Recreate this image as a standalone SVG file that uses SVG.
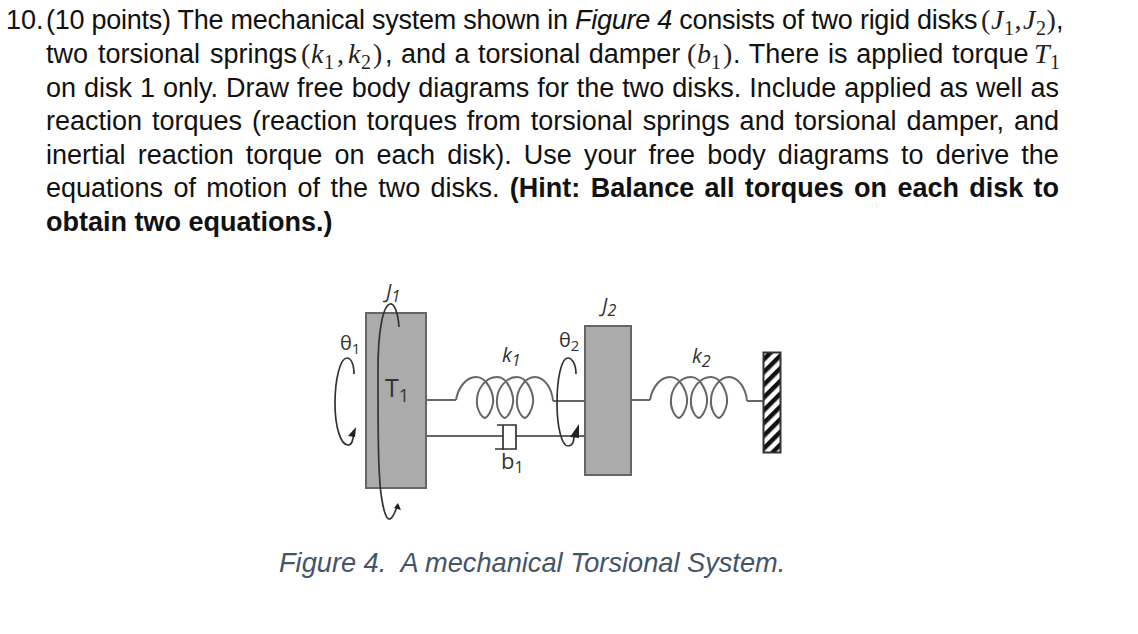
<svg xmlns="http://www.w3.org/2000/svg" width="1138" height="634" viewBox="0 0 1138 634">
<style>
.t{font-family:"Liberation Sans",Arial,sans-serif;font-size:27px;fill:#111}
.b{font-weight:bold}
.i{font-style:italic}
.m{font-family:"Liberation Serif","Times New Roman",serif;font-style:italic;font-size:28px;fill:#222}
.r{font-family:"Liberation Serif","Times New Roman",serif;font-size:28px;fill:#222}
.s{font-family:"Liberation Serif","Times New Roman",serif;font-size:20px;fill:#222}
.cap{font-family:"Liberation Sans",Arial,sans-serif;font-size:27.2px;font-style:italic;fill:#44546a}
.l{font-family:"Open Sans",sans-serif;fill:#333}
.w{fill:none;stroke:#666;stroke-width:2}
.k{fill:none;stroke:#333;stroke-width:1.7}
.disk{fill:#ababab;stroke:#666;stroke-width:2}
.head{fill:#222}
</style>
<defs>
<pattern id="hatch" width="9" height="9" patternUnits="userSpaceOnUse" patternTransform="rotate(45)">
<rect width="9" height="9" fill="#fff"/><rect width="4.500" height="9" fill="#111"/>
</pattern>
<path id="coils" d="M0 0C2-12 10-23 20-23C32-23 38-5 37 3C36 10 32 17 29 18C25 17 20 8 21 0C21-10 29-23 41-23C52-23 58-5 57 3C56 10 52 17 49 18C45 17 40 8 41 0C41-10 49-23 61-23C72-23 78-5 77 3C76 10 72 17 69 18C65 17 60 8 61 0C61-10 69-23 79-23C88-23 96-12 97 1"/>
</defs>
<g id="problem-text">
<text class="t" x="6" y="29">10.</text>
<text class="t" x="46" y="29" letter-spacing="-0.25">(10 points) The mechanical system shown in <tspan class="i">Figure 4</tspan> consists of two rigid disks</text>
<text class="r" x="981" y="29">(</text><text class="m" x="991" y="29">J</text><text class="s" x="1004" y="35">1</text><text class="r" x="1014.500" y="29">,</text><text class="m" x="1023" y="29">J</text><text class="s" x="1036" y="35">2</text><text class="r" x="1046.500" y="29">)</text><text class="t" x="1056" y="29">,</text>
<text class="t" x="46" y="63" word-spacing="2.5">two torsional springs</text>
<text class="r" x="301" y="63">(</text><text class="m" x="311" y="63">k</text><text class="s" x="324" y="69">1</text><text class="r" x="337" y="63">,</text><text class="m" x="348" y="63">k</text><text class="s" x="361" y="69">2</text><text class="r" x="373" y="63">)</text>
<text class="t" x="385" y="63" word-spacing="1">, and a torsional damper</text>
<text class="r" x="687" y="63">(</text><text class="m" x="697" y="63">b</text><text class="s" x="711" y="69">1</text><text class="r" x="723" y="63">)</text>
<text class="t" x="733" y="63" word-spacing="1.2">. There is applied torque</text>
<text class="m" x="1034" y="63">T</text><text class="s" x="1050" y="69">1</text>
<text class="t" x="46" y="97" word-spacing="0.5">on disk 1 only. Draw free body diagrams for the two disks. Include applied as well as</text>
<text class="t" x="46" y="130" word-spacing="2.4">reaction torques (reaction torques from torsional springs and torsional damper, and</text>
<text class="t" x="46" y="164" word-spacing="4.6">inertial reaction torque on each disk). Use your free body diagrams to derive the</text>
<text class="t" x="46" y="197" word-spacing="2.8">equations of motion of the two disks. <tspan class="b">(Hint: Balance all torques on each disk to</tspan></text>
<text class="t b" x="46" y="231">obtain two equations.)</text>
</g>
<g id="connectors">
<path class="w" d="M426 400H456"/>
<use href="#coils" class="w" x="456" y="400"/>
<path class="w" d="M553 401H585"/>
<path class="w" d="M631 400H650"/>
<use href="#coils" class="w" x="650" y="400"/>
<path class="w" d="M747 401H763"/>
<path class="k" d="M427 436H503M516 436H585"/>
</g>
<g id="disk-1"><rect class="disk" x="366" y="313" width="60" height="175"/></g>
<g id="disk-2"><rect class="disk" x="585" y="326" width="46" height="149"/></g>
<g id="damper-b1">
<path class="k" d="M497 425H516V449H495M503 425V450"/>
<text class="l" x="501" y="469" font-size="22">b<tspan font-size="16" dy="4">1</tspan></text>
</g>
<g id="wall"><rect x="763.500" y="352.500" width="17" height="100" fill="url(#hatch)" stroke="#333" stroke-width="2"/></g>
<g id="torque-T1">
<path class="k" d="M399 327C398 312 394 303 390 304C383 306 378 330 378 370C378 430 378 480 382 500C384 513 387 520 390 519C393 518 395 512 397 507"/>
<path class="head" d="M398 503L401 510L394 508Z"/>
<text class="l" x="385" y="397" font-size="25">T<tspan font-size="18" dy="5">1</tspan></text>
</g>
<g id="theta-1">
<path class="k" d="M354 374C354 364 351 358 347 358C340 358 335 380 335 403C335 428 341 445 348 445C351 445 354 441 353 433"/>
<path class="head" d="M356 427L355 437L348 436Z"/>
<text class="l" x="340" y="350" font-size="20">θ<tspan font-size="15" dy="4">1</tspan></text>
</g>
<g id="theta-2">
<path class="k" d="M576 374C576 364 572 358 568 358C561 358 557 380 557 403C557 428 562 446 568 446C572 446 574 443 574 436"/>
<path class="head" d="M579 424L579 438L570 437Z"/>
<text class="l" x="559" y="347" font-size="20">θ<tspan font-size="15" dy="4">2</tspan></text>
</g>
<g id="labels">
<text class="l" x="386" y="298" font-size="20" font-style="italic">J<tspan font-size="16" dy="4">1</tspan></text>
<text class="l" x="602" y="312" font-size="20" font-style="italic">J<tspan font-size="16" dy="4">2</tspan></text>
<text class="l" x="502" y="362" font-size="20" font-style="italic">k<tspan font-size="16" dy="4">1</tspan></text>
<text class="l" x="692" y="363" font-size="20" font-style="italic">k<tspan font-size="16" dy="4">2</tspan></text>
</g>
<text class="cap" x="279" y="572" xml:space="preserve">Figure 4.  A mechanical Torsional System.</text>
</svg>
